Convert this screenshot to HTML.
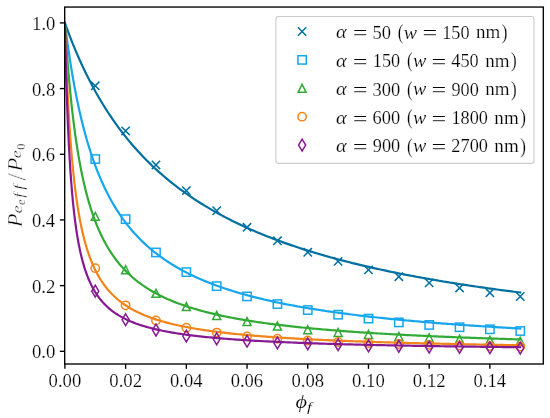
<!DOCTYPE html>
<html><head><meta charset="utf-8"><title>plot</title>
<style>
html,body{margin:0;padding:0;background:#fff;}
svg{display:block}
text{font-family:"Liberation Serif","DejaVu Serif",serif;font-kerning:none;white-space:pre;stroke:#fff;stroke-width:0.2px}
</style></head><body>
<svg width="550" height="418" viewBox="0 0 550 418">
<rect width="550" height="418" fill="#fff"/>
<defs><clipPath id="c"><rect x="64.7" y="7.05" width="478.59999999999997" height="356.95"/></clipPath></defs>

<g clip-path="url(#c)">
<path d="M64.90 22.90L65.41 24.34L65.93 25.77L66.44 27.19L66.96 28.59L67.47 29.99L67.99 31.37L68.50 32.74L69.02 34.10L69.53 35.45L70.05 36.78L70.56 38.11L71.07 39.43L71.59 40.73L72.10 42.03L72.62 43.31L73.13 44.58L73.65 45.85L74.16 47.10L74.68 48.35L75.19 49.58L75.71 50.81L76.22 52.02L76.73 53.23L77.25 54.43L77.76 55.61L78.28 56.79L78.79 57.96L79.31 59.12L79.82 60.28L80.34 61.42L80.85 62.55L81.36 63.68L81.88 64.80L82.39 65.91L82.91 67.01L83.42 68.10L83.94 69.19L84.45 70.27L84.97 71.34L85.48 72.40L86.00 73.45L86.51 74.50L87.02 75.54L87.54 76.57L88.05 77.59L88.57 78.61L89.08 79.62L89.60 80.62L90.11 81.62L90.63 82.61L91.14 83.59L91.66 84.57L92.17 85.53L92.68 86.50L93.20 87.45L93.71 88.40L94.23 89.34L94.74 90.28L95.26 91.21L97.39 95.00L99.53 98.69L101.66 102.27L103.80 105.77L105.94 109.17L108.07 112.48L110.21 115.71L112.34 118.85L114.48 121.92L116.61 124.91L118.75 127.83L120.89 130.68L123.02 133.46L125.16 136.17L127.29 138.82L129.43 141.41L131.56 143.95L133.70 146.42L135.83 148.84L137.97 151.21L140.11 153.53L142.24 155.79L144.38 158.01L146.51 160.18L148.65 162.31L150.78 164.39L152.92 166.43L155.06 168.43L157.19 170.39L159.33 172.31L161.46 174.19L163.60 176.03L165.73 177.85L167.87 179.62L170.01 181.36L172.14 183.07L174.28 184.75L176.41 186.40L178.55 188.02L180.68 189.60L182.82 191.16L184.96 192.70L187.09 194.20L189.23 195.68L191.36 197.14L193.50 198.56L195.63 199.97L197.77 201.35L199.90 202.71L202.04 204.05L204.18 205.36L206.31 206.65L208.45 207.92L210.58 209.17L212.72 210.41L214.85 211.62L216.99 212.81L219.13 213.99L221.26 215.14L223.40 216.28L225.53 217.40L227.67 218.51L229.80 219.60L231.94 220.67L234.08 221.73L236.21 222.77L238.35 223.79L240.48 224.80L242.62 225.80L244.75 226.78L246.89 227.75L249.03 228.71L251.16 229.65L253.30 230.58L255.43 231.50L257.57 232.40L259.70 233.29L261.84 234.17L263.97 235.04L266.11 235.90L268.25 236.74L270.38 237.58L272.52 238.40L274.65 239.21L276.79 240.01L278.92 240.81L281.06 241.59L283.20 242.36L285.33 243.12L287.47 243.88L289.60 244.62L291.74 245.35L293.87 246.08L296.01 246.80L298.15 247.51L300.28 248.21L302.42 248.90L304.55 249.58L306.69 250.26L308.82 250.92L310.96 251.58L313.10 252.24L315.23 252.88L317.37 253.52L319.50 254.15L321.64 254.77L323.77 255.39L325.91 255.99L328.04 256.60L330.18 257.19L332.32 257.78L334.45 258.36L336.59 258.94L338.72 259.51L340.86 260.07L342.99 260.63L345.13 261.18L347.27 261.73L349.40 262.27L351.54 262.81L353.67 263.33L355.81 263.86L357.94 264.38L360.08 264.89L362.22 265.40L364.35 265.90L366.49 266.40L368.62 266.89L370.76 267.38L372.89 267.86L375.03 268.34L377.17 268.81L379.30 269.28L381.44 269.74L383.57 270.20L385.71 270.66L387.84 271.11L389.98 271.56L392.11 272.00L394.25 272.44L396.39 272.87L398.52 273.30L400.66 273.72L402.79 274.15L404.93 274.56L407.06 274.98L409.20 275.39L411.34 275.79L413.47 276.20L415.61 276.60L417.74 276.99L419.88 277.38L422.01 277.77L424.15 278.16L426.29 278.54L428.42 278.92L430.56 279.29L432.69 279.66L434.83 280.03L436.96 280.40L439.10 280.76L441.24 281.12L443.37 281.48L445.51 281.83L447.64 282.18L449.78 282.52L451.91 282.87L454.05 283.21L456.18 283.55L458.32 283.88L460.46 284.22L462.59 284.55L464.73 284.87L466.86 285.20L469.00 285.52L471.13 285.84L473.27 286.16L475.41 286.47L477.54 286.78L479.68 287.09L481.81 287.40L483.95 287.70L486.08 288.01L488.22 288.31L490.36 288.60L492.49 288.90L494.63 289.19L496.76 289.48L498.90 289.77L501.03 290.05L503.17 290.34L505.31 290.62L507.44 290.90L509.58 291.18L511.71 291.45L513.85 291.73L515.98 292.00L518.12 292.27L520.25 292.53" fill="none" stroke="#0070a0" stroke-width="2.2" stroke-linecap="square" stroke-linejoin="round"/>
<path d="M91.09 81.62L99.42 89.95M91.09 89.95L99.42 81.62" stroke="#0070a0" stroke-width="1.5" fill="none"/>
<path d="M121.45 126.78L129.78 135.11M121.45 135.11L129.78 126.78" stroke="#0070a0" stroke-width="1.5" fill="none"/>
<path d="M151.81 160.80L160.14 169.13M151.81 169.13L160.14 160.80" stroke="#0070a0" stroke-width="1.5" fill="none"/>
<path d="M182.16 186.45L190.49 194.78M182.16 194.78L190.49 186.45" stroke="#0070a0" stroke-width="1.5" fill="none"/>
<path d="M212.52 206.58L220.85 214.91M212.52 214.91L220.85 206.58" stroke="#0070a0" stroke-width="1.5" fill="none"/>
<path d="M242.88 223.10L251.21 231.43M242.88 231.43L251.21 223.10" stroke="#0070a0" stroke-width="1.5" fill="none"/>
<path d="M273.23 236.63L281.56 244.96M273.23 244.96L281.56 236.63" stroke="#0070a0" stroke-width="1.5" fill="none"/>
<path d="M303.59 248.12L311.92 256.45M303.59 256.45L311.92 248.12" stroke="#0070a0" stroke-width="1.5" fill="none"/>
<path d="M333.95 257.22L342.28 265.55M333.95 265.55L342.28 257.22" stroke="#0070a0" stroke-width="1.5" fill="none"/>
<path d="M364.31 265.72L372.64 274.05M364.31 274.05L372.64 265.72" stroke="#0070a0" stroke-width="1.5" fill="none"/>
<path d="M394.66 272.52L402.99 280.85M394.66 280.85L402.99 272.52" stroke="#0070a0" stroke-width="1.5" fill="none"/>
<path d="M425.02 278.76L433.35 287.09M425.02 287.09L433.35 278.76" stroke="#0070a0" stroke-width="1.5" fill="none"/>
<path d="M455.38 283.79L463.71 292.12M455.38 292.12L463.71 283.79" stroke="#0070a0" stroke-width="1.5" fill="none"/>
<path d="M485.73 288.61L494.06 296.94M485.73 296.94L494.06 288.61" stroke="#0070a0" stroke-width="1.5" fill="none"/>
<path d="M516.09 292.33L524.42 300.66M516.09 300.66L524.42 292.33" stroke="#0070a0" stroke-width="1.5" fill="none"/>
<path d="M64.90 22.90L65.41 27.08L65.93 31.15L66.44 35.12L66.96 39.00L67.47 42.79L67.99 46.48L68.50 50.09L69.02 53.62L69.53 57.06L70.05 60.43L70.56 63.72L71.07 66.94L71.59 70.09L72.10 73.18L72.62 76.19L73.13 79.14L73.65 82.03L74.16 84.87L74.68 87.64L75.19 90.36L75.71 93.02L76.22 95.63L76.73 98.18L77.25 100.69L77.76 103.15L78.28 105.56L78.79 107.93L79.31 110.25L79.82 112.53L80.34 114.77L80.85 116.97L81.36 119.13L81.88 121.24L82.39 123.32L82.91 125.37L83.42 127.38L83.94 129.35L84.45 131.29L84.97 133.20L85.48 135.07L86.00 136.92L86.51 138.73L87.02 140.51L87.54 142.27L88.05 143.99L88.57 145.69L89.08 147.36L89.60 149.01L90.11 150.62L90.63 152.22L91.14 153.79L91.66 155.33L92.17 156.85L92.68 158.35L93.20 159.83L93.71 161.28L94.23 162.72L94.74 164.13L95.26 165.52L97.39 171.09L99.53 176.33L101.66 181.29L103.80 185.98L105.94 190.43L108.07 194.65L110.21 198.66L112.34 202.47L114.48 206.11L116.61 209.57L118.75 212.88L120.89 216.04L123.02 219.07L125.16 221.96L127.29 224.74L129.43 227.40L131.56 229.96L133.70 232.42L135.83 234.78L137.97 237.05L140.11 239.24L142.24 241.35L144.38 243.39L146.51 245.35L148.65 247.25L150.78 249.08L152.92 250.85L155.06 252.57L157.19 254.23L159.33 255.83L161.46 257.39L163.60 258.90L165.73 260.36L167.87 261.78L170.01 263.16L172.14 264.49L174.28 265.79L176.41 267.06L178.55 268.28L180.68 269.48L182.82 270.64L184.96 271.77L187.09 272.87L189.23 273.95L191.36 274.99L193.50 276.01L195.63 277.01L197.77 277.97L199.90 278.92L202.04 279.84L204.18 280.74L206.31 281.62L208.45 282.48L210.58 283.32L212.72 284.14L214.85 284.95L216.99 285.73L219.13 286.50L221.26 287.25L223.40 287.98L225.53 288.70L227.67 289.41L229.80 290.10L231.94 290.77L234.08 291.43L236.21 292.08L238.35 292.71L240.48 293.34L242.62 293.95L244.75 294.55L246.89 295.13L249.03 295.71L251.16 296.27L253.30 296.83L255.43 297.37L257.57 297.91L259.70 298.43L261.84 298.94L263.97 299.45L266.11 299.95L268.25 300.44L270.38 300.92L272.52 301.39L274.65 301.85L276.79 302.31L278.92 302.75L281.06 303.19L283.20 303.63L285.33 304.05L287.47 304.47L289.60 304.88L291.74 305.29L293.87 305.69L296.01 306.08L298.15 306.47L300.28 306.85L302.42 307.23L304.55 307.60L306.69 307.96L308.82 308.32L310.96 308.67L313.10 309.02L315.23 309.36L317.37 309.70L319.50 310.03L321.64 310.36L323.77 310.68L325.91 311.00L328.04 311.32L330.18 311.63L332.32 311.93L334.45 312.23L336.59 312.53L338.72 312.82L340.86 313.11L342.99 313.40L345.13 313.68L347.27 313.96L349.40 314.23L351.54 314.50L353.67 314.77L355.81 315.03L357.94 315.29L360.08 315.55L362.22 315.80L364.35 316.05L366.49 316.30L368.62 316.55L370.76 316.79L372.89 317.03L375.03 317.26L377.17 317.49L379.30 317.72L381.44 317.95L383.57 318.17L385.71 318.40L387.84 318.62L389.98 318.83L392.11 319.05L394.25 319.26L396.39 319.47L398.52 319.67L400.66 319.88L402.79 320.08L404.93 320.28L407.06 320.48L409.20 320.67L411.34 320.87L413.47 321.06L415.61 321.25L417.74 321.43L419.88 321.62L422.01 321.80L424.15 321.98L426.29 322.16L428.42 322.34L430.56 322.51L432.69 322.69L434.83 322.86L436.96 323.03L439.10 323.20L441.24 323.36L443.37 323.53L445.51 323.69L447.64 323.85L449.78 324.01L451.91 324.17L454.05 324.33L456.18 324.48L458.32 324.64L460.46 324.79L462.59 324.94L464.73 325.09L466.86 325.23L469.00 325.38L471.13 325.53L473.27 325.67L475.41 325.81L477.54 325.95L479.68 326.09L481.81 326.23L483.95 326.37L486.08 326.50L488.22 326.64L490.36 326.77L492.49 326.90L494.63 327.03L496.76 327.16L498.90 327.29L501.03 327.42L503.17 327.54L505.31 327.67L507.44 327.79L509.58 327.92L511.71 328.04L513.85 328.16L515.98 328.28L518.12 328.40L520.25 328.51" fill="none" stroke="#16a6ee" stroke-width="2.2" stroke-linecap="square" stroke-linejoin="round"/>
<rect x="91.09" y="154.89" width="8.33" height="8.33" stroke="#16a6ee" stroke-width="1.5" fill="none"/>
<rect x="121.45" y="214.99" width="8.33" height="8.33" stroke="#16a6ee" stroke-width="1.5" fill="none"/>
<rect x="151.81" y="248.29" width="8.33" height="8.33" stroke="#16a6ee" stroke-width="1.5" fill="none"/>
<rect x="182.16" y="267.96" width="8.33" height="8.33" stroke="#16a6ee" stroke-width="1.5" fill="none"/>
<rect x="212.52" y="281.98" width="8.33" height="8.33" stroke="#16a6ee" stroke-width="1.5" fill="none"/>
<rect x="242.88" y="292.26" width="8.33" height="8.33" stroke="#16a6ee" stroke-width="1.5" fill="none"/>
<rect x="273.23" y="299.88" width="8.33" height="8.33" stroke="#16a6ee" stroke-width="1.5" fill="none"/>
<rect x="303.59" y="305.89" width="8.33" height="8.33" stroke="#16a6ee" stroke-width="1.5" fill="none"/>
<rect x="333.95" y="310.52" width="8.33" height="8.33" stroke="#16a6ee" stroke-width="1.5" fill="none"/>
<rect x="364.31" y="314.46" width="8.33" height="8.33" stroke="#16a6ee" stroke-width="1.5" fill="none"/>
<rect x="394.66" y="318.24" width="8.33" height="8.33" stroke="#16a6ee" stroke-width="1.5" fill="none"/>
<rect x="425.02" y="320.76" width="8.33" height="8.33" stroke="#16a6ee" stroke-width="1.5" fill="none"/>
<rect x="455.38" y="323.06" width="8.33" height="8.33" stroke="#16a6ee" stroke-width="1.5" fill="none"/>
<rect x="485.73" y="325.10" width="8.33" height="8.33" stroke="#16a6ee" stroke-width="1.5" fill="none"/>
<rect x="516.09" y="326.84" width="8.33" height="8.33" stroke="#16a6ee" stroke-width="1.5" fill="none"/>
<path d="M64.90 22.90L65.41 31.10L65.93 38.90L66.44 46.33L66.96 53.42L67.47 60.18L67.99 66.65L68.50 72.85L69.02 78.77L69.53 84.46L70.05 89.91L70.56 95.15L71.07 100.18L71.59 105.02L72.10 109.68L72.62 114.17L73.13 118.49L73.65 122.66L74.16 126.69L74.68 130.58L75.19 134.33L75.71 137.97L76.22 141.48L76.73 144.88L77.25 148.18L77.76 151.37L78.28 154.46L78.79 157.46L79.31 160.37L79.82 163.20L80.34 165.94L80.85 168.61L81.36 171.20L81.88 173.72L82.39 176.17L82.91 178.56L83.42 180.88L83.94 183.14L84.45 185.34L84.97 187.49L85.48 189.58L86.00 191.62L86.51 193.61L87.02 195.56L87.54 197.45L88.05 199.30L88.57 201.11L89.08 202.87L89.60 204.60L90.11 206.28L90.63 207.93L91.14 209.54L91.66 211.12L92.17 212.66L92.68 214.17L93.20 215.65L93.71 217.09L94.23 218.51L94.74 219.90L95.26 221.25L97.39 226.61L99.53 231.55L101.66 236.12L103.80 240.36L105.94 244.30L108.07 247.98L110.21 251.41L112.34 254.64L114.48 257.66L116.61 260.50L118.75 263.18L120.89 265.71L123.02 268.11L125.16 270.37L127.29 272.52L129.43 274.56L131.56 276.50L133.70 278.35L135.83 280.11L137.97 281.79L140.11 283.39L142.24 284.93L144.38 286.39L146.51 287.80L148.65 289.15L150.78 290.44L152.92 291.69L155.06 292.88L157.19 294.03L159.33 295.14L161.46 296.21L163.60 297.24L165.73 298.23L167.87 299.19L170.01 300.11L172.14 301.01L174.28 301.87L176.41 302.71L178.55 303.52L180.68 304.30L182.82 305.06L184.96 305.80L187.09 306.52L189.23 307.21L191.36 307.88L193.50 308.54L195.63 309.17L197.77 309.79L199.90 310.39L202.04 310.98L204.18 311.55L206.31 312.10L208.45 312.64L210.58 313.17L212.72 313.68L214.85 314.18L216.99 314.67L219.13 315.14L221.26 315.60L223.40 316.06L225.53 316.50L227.67 316.93L229.80 317.35L231.94 317.76L234.08 318.17L236.21 318.56L238.35 318.95L240.48 319.32L242.62 319.69L244.75 320.05L246.89 320.41L249.03 320.75L251.16 321.09L253.30 321.42L255.43 321.75L257.57 322.06L259.70 322.38L261.84 322.68L263.97 322.98L266.11 323.28L268.25 323.57L270.38 323.85L272.52 324.13L274.65 324.40L276.79 324.67L278.92 324.93L281.06 325.19L283.20 325.44L285.33 325.69L287.47 325.93L289.60 326.17L291.74 326.41L293.87 326.64L296.01 326.87L298.15 327.10L300.28 327.32L302.42 327.53L304.55 327.75L306.69 327.96L308.82 328.16L310.96 328.37L313.10 328.57L315.23 328.76L317.37 328.96L319.50 329.15L321.64 329.33L323.77 329.52L325.91 329.70L328.04 329.88L330.18 330.06L332.32 330.23L334.45 330.40L336.59 330.57L338.72 330.74L340.86 330.90L342.99 331.06L345.13 331.22L347.27 331.38L349.40 331.53L351.54 331.69L353.67 331.84L355.81 331.99L357.94 332.13L360.08 332.28L362.22 332.42L364.35 332.56L366.49 332.70L368.62 332.84L370.76 332.97L372.89 333.11L375.03 333.24L377.17 333.37L379.30 333.50L381.44 333.62L383.57 333.75L385.71 333.87L387.84 333.99L389.98 334.11L392.11 334.23L394.25 334.35L396.39 334.47L398.52 334.58L400.66 334.70L402.79 334.81L404.93 334.92L407.06 335.03L409.20 335.14L411.34 335.24L413.47 335.35L415.61 335.45L417.74 335.56L419.88 335.66L422.01 335.76L424.15 335.86L426.29 335.96L428.42 336.06L430.56 336.15L432.69 336.25L434.83 336.34L436.96 336.43L439.10 336.53L441.24 336.62L443.37 336.71L445.51 336.80L447.64 336.89L449.78 336.97L451.91 337.06L454.05 337.15L456.18 337.23L458.32 337.32L460.46 337.40L462.59 337.48L464.73 337.56L466.86 337.64L469.00 337.72L471.13 337.80L473.27 337.88L475.41 337.96L477.54 338.03L479.68 338.11L481.81 338.18L483.95 338.26L486.08 338.33L488.22 338.41L490.36 338.48L492.49 338.55L494.63 338.62L496.76 338.69L498.90 338.76L501.03 338.83L503.17 338.90L505.31 338.97L507.44 339.03L509.58 339.10L511.71 339.16L513.85 339.23L515.98 339.29L518.12 339.36L520.25 339.42" fill="none" stroke="#32aa36" stroke-width="2.2" stroke-linecap="square" stroke-linejoin="round"/>
<path d="M95.26 212.33L99.26 220.33L91.26 220.33Z" stroke="#32aa36" stroke-width="1.5" fill="none" stroke-linejoin="miter"/>
<path d="M125.61 265.73L129.61 273.72L121.62 273.72Z" stroke="#32aa36" stroke-width="1.5" fill="none" stroke-linejoin="miter"/>
<path d="M155.97 289.34L159.97 297.34L151.97 297.34Z" stroke="#32aa36" stroke-width="1.5" fill="none" stroke-linejoin="miter"/>
<path d="M186.33 302.57L190.33 310.57L182.33 310.57Z" stroke="#32aa36" stroke-width="1.5" fill="none" stroke-linejoin="miter"/>
<path d="M216.69 311.41L220.68 319.40L212.69 319.40Z" stroke="#32aa36" stroke-width="1.5" fill="none" stroke-linejoin="miter"/>
<path d="M247.04 317.52L251.04 325.51L243.04 325.51Z" stroke="#32aa36" stroke-width="1.5" fill="none" stroke-linejoin="miter"/>
<path d="M277.40 322.05L281.40 330.04L273.40 330.04Z" stroke="#32aa36" stroke-width="1.5" fill="none" stroke-linejoin="miter"/>
<path d="M307.76 325.73L311.75 333.72L303.76 333.72Z" stroke="#32aa36" stroke-width="1.5" fill="none" stroke-linejoin="miter"/>
<path d="M338.11 328.52L342.11 336.51L334.11 336.51Z" stroke="#32aa36" stroke-width="1.5" fill="none" stroke-linejoin="miter"/>
<path d="M368.47 330.39L372.47 338.39L364.47 338.39Z" stroke="#32aa36" stroke-width="1.5" fill="none" stroke-linejoin="miter"/>
<path d="M398.83 332.41L402.83 340.40L394.83 340.40Z" stroke="#32aa36" stroke-width="1.5" fill="none" stroke-linejoin="miter"/>
<path d="M429.18 333.90L433.18 341.89L425.19 341.89Z" stroke="#32aa36" stroke-width="1.5" fill="none" stroke-linejoin="miter"/>
<path d="M459.54 335.17L463.54 343.17L455.54 343.17Z" stroke="#32aa36" stroke-width="1.5" fill="none" stroke-linejoin="miter"/>
<path d="M489.90 336.27L493.90 344.27L485.90 344.27Z" stroke="#32aa36" stroke-width="1.5" fill="none" stroke-linejoin="miter"/>
<path d="M520.25 337.23L524.25 345.23L516.26 345.23Z" stroke="#32aa36" stroke-width="1.5" fill="none" stroke-linejoin="miter"/>
<path d="M64.90 22.90L65.41 38.84L65.93 53.31L66.44 66.51L66.96 78.59L67.47 89.69L67.99 99.92L68.50 109.39L69.02 118.18L69.53 126.35L70.05 133.97L70.56 141.09L71.07 147.76L71.59 154.03L72.10 159.92L72.62 165.47L73.13 170.71L73.65 175.67L74.16 180.36L74.68 184.81L75.19 189.03L75.71 193.05L76.22 196.87L76.73 200.52L77.25 204.00L77.76 207.32L78.28 210.50L78.79 213.54L79.31 216.45L79.82 219.24L80.34 221.92L80.85 224.50L81.36 226.97L81.88 229.36L82.39 231.65L82.91 233.86L83.42 235.99L83.94 238.04L84.45 240.02L84.97 241.94L85.48 243.79L86.00 245.58L86.51 247.31L87.02 248.99L87.54 250.61L88.05 252.19L88.57 253.71L89.08 255.19L89.60 256.63L90.11 258.02L90.63 259.38L91.14 260.70L91.66 261.98L92.17 263.22L92.68 264.43L93.20 265.61L93.71 266.76L94.23 267.87L94.74 268.96L95.26 270.02L97.39 274.15L99.53 277.88L101.66 281.28L103.80 284.38L105.94 287.22L108.07 289.83L110.21 292.24L112.34 294.47L114.48 296.54L116.61 298.47L118.75 300.27L120.89 301.96L123.02 303.54L125.16 305.02L127.29 306.41L129.43 307.73L131.56 308.97L133.70 310.15L135.83 311.26L137.97 312.32L140.11 313.32L142.24 314.27L144.38 315.18L146.51 316.05L148.65 316.87L150.78 317.67L152.92 318.42L155.06 319.14L157.19 319.84L159.33 320.50L161.46 321.14L163.60 321.75L165.73 322.34L167.87 322.91L170.01 323.46L172.14 323.99L174.28 324.49L176.41 324.98L178.55 325.46L180.68 325.91L182.82 326.35L184.96 326.78L187.09 327.20L189.23 327.60L191.36 327.98L193.50 328.36L195.63 328.72L197.77 329.08L199.90 329.42L202.04 329.75L204.18 330.08L206.31 330.39L208.45 330.70L210.58 330.99L212.72 331.28L214.85 331.57L216.99 331.84L219.13 332.11L221.26 332.37L223.40 332.62L225.53 332.87L227.67 333.11L229.80 333.34L231.94 333.57L234.08 333.80L236.21 334.02L238.35 334.23L240.48 334.44L242.62 334.64L244.75 334.84L246.89 335.04L249.03 335.23L251.16 335.42L253.30 335.60L255.43 335.78L257.57 335.95L259.70 336.12L261.84 336.29L263.97 336.46L266.11 336.62L268.25 336.78L270.38 336.93L272.52 337.08L274.65 337.23L276.79 337.38L278.92 337.52L281.06 337.66L283.20 337.80L285.33 337.93L287.47 338.07L289.60 338.20L291.74 338.32L293.87 338.45L296.01 338.57L298.15 338.69L300.28 338.81L302.42 338.93L304.55 339.05L306.69 339.16L308.82 339.27L310.96 339.38L313.10 339.49L315.23 339.59L317.37 339.70L319.50 339.80L321.64 339.90L323.77 340.00L325.91 340.10L328.04 340.19L330.18 340.29L332.32 340.38L334.45 340.47L336.59 340.56L338.72 340.65L340.86 340.74L342.99 340.83L345.13 340.91L347.27 341.00L349.40 341.08L351.54 341.16L353.67 341.24L355.81 341.32L357.94 341.40L360.08 341.47L362.22 341.55L364.35 341.62L366.49 341.70L368.62 341.77L370.76 341.84L372.89 341.91L375.03 341.98L377.17 342.05L379.30 342.12L381.44 342.19L383.57 342.25L385.71 342.32L387.84 342.38L389.98 342.45L392.11 342.51L394.25 342.57L396.39 342.63L398.52 342.70L400.66 342.75L402.79 342.81L404.93 342.87L407.06 342.93L409.20 342.99L411.34 343.04L413.47 343.10L415.61 343.15L417.74 343.21L419.88 343.26L422.01 343.32L424.15 343.37L426.29 343.42L428.42 343.47L430.56 343.52L432.69 343.57L434.83 343.62L436.96 343.67L439.10 343.72L441.24 343.77L443.37 343.81L445.51 343.86L447.64 343.91L449.78 343.95L451.91 344.00L454.05 344.04L456.18 344.09L458.32 344.13L460.46 344.18L462.59 344.22L464.73 344.26L466.86 344.30L469.00 344.35L471.13 344.39L473.27 344.43L475.41 344.47L477.54 344.51L479.68 344.55L481.81 344.59L483.95 344.63L486.08 344.66L488.22 344.70L490.36 344.74L492.49 344.78L494.63 344.81L496.76 344.85L498.90 344.89L501.03 344.92L503.17 344.96L505.31 344.99L507.44 345.03L509.58 345.06L511.71 345.10L513.85 345.13L515.98 345.17L518.12 345.20L520.25 345.23" fill="none" stroke="#f3841a" stroke-width="2.2" stroke-linecap="square" stroke-linejoin="round"/>
<circle cx="95.26" cy="268.18" r="4.17" stroke="#f3841a" stroke-width="1.5" fill="none"/>
<circle cx="125.61" cy="305.32" r="4.17" stroke="#f3841a" stroke-width="1.5" fill="none"/>
<circle cx="155.97" cy="320.43" r="4.17" stroke="#f3841a" stroke-width="1.5" fill="none"/>
<circle cx="186.33" cy="327.79" r="4.17" stroke="#f3841a" stroke-width="1.5" fill="none"/>
<circle cx="216.69" cy="332.58" r="4.17" stroke="#f3841a" stroke-width="1.5" fill="none"/>
<circle cx="247.04" cy="336.37" r="4.17" stroke="#f3841a" stroke-width="1.5" fill="none"/>
<circle cx="277.40" cy="338.73" r="4.17" stroke="#f3841a" stroke-width="1.5" fill="none"/>
<circle cx="307.76" cy="340.53" r="4.17" stroke="#f3841a" stroke-width="1.5" fill="none"/>
<circle cx="338.11" cy="341.94" r="4.17" stroke="#f3841a" stroke-width="1.5" fill="none"/>
<circle cx="368.47" cy="343.08" r="4.17" stroke="#f3841a" stroke-width="1.5" fill="none"/>
<circle cx="398.83" cy="344.02" r="4.17" stroke="#f3841a" stroke-width="1.5" fill="none"/>
<circle cx="429.18" cy="344.80" r="4.17" stroke="#f3841a" stroke-width="1.5" fill="none"/>
<circle cx="459.54" cy="345.47" r="4.17" stroke="#f3841a" stroke-width="1.5" fill="none"/>
<circle cx="489.90" cy="346.05" r="4.17" stroke="#f3841a" stroke-width="1.5" fill="none"/>
<circle cx="520.25" cy="346.55" r="4.17" stroke="#f3841a" stroke-width="1.5" fill="none"/>
<path d="M64.90 22.90L65.41 46.22L65.93 66.46L66.44 84.19L66.96 99.84L67.47 113.76L67.99 126.23L68.50 137.46L69.02 147.62L69.53 156.87L70.05 165.31L70.56 173.06L71.07 180.18L71.59 186.76L72.10 192.86L72.62 198.52L73.13 203.80L73.65 208.72L74.16 213.33L74.68 217.64L75.19 221.70L75.71 225.52L76.22 229.13L76.73 232.53L77.25 235.75L77.76 238.80L78.28 241.70L78.79 244.45L79.31 247.06L79.82 249.56L80.34 251.93L80.85 254.20L81.36 256.37L81.88 258.45L82.39 260.43L82.91 262.34L83.42 264.16L83.94 265.92L84.45 267.60L84.97 269.22L85.48 270.78L86.00 272.28L86.51 273.73L87.02 275.12L87.54 276.47L88.05 277.77L88.57 279.03L89.08 280.24L89.60 281.42L90.11 282.55L90.63 283.65L91.14 284.72L91.66 285.75L92.17 286.76L92.68 287.73L93.20 288.67L93.71 289.59L94.23 290.48L94.74 291.35L95.26 292.19L97.39 295.45L99.53 298.37L101.66 301.00L103.80 303.39L105.94 305.56L108.07 307.55L110.21 309.37L112.34 311.06L114.48 312.61L116.61 314.05L118.75 315.39L120.89 316.64L123.02 317.80L125.16 318.89L127.29 319.92L129.43 320.88L131.56 321.78L133.70 322.64L135.83 323.45L137.97 324.21L140.11 324.94L142.24 325.63L144.38 326.28L146.51 326.90L148.65 327.49L150.78 328.06L152.92 328.60L155.06 329.12L157.19 329.61L159.33 330.08L161.46 330.54L163.60 330.97L165.73 331.39L167.87 331.79L170.01 332.18L172.14 332.55L174.28 332.91L176.41 333.25L178.55 333.59L180.68 333.91L182.82 334.22L184.96 334.52L187.09 334.81L189.23 335.09L191.36 335.36L193.50 335.62L195.63 335.88L197.77 336.13L199.90 336.37L202.04 336.60L204.18 336.82L206.31 337.04L208.45 337.26L210.58 337.46L212.72 337.66L214.85 337.86L216.99 338.05L219.13 338.24L221.26 338.42L223.40 338.59L225.53 338.76L227.67 338.93L229.80 339.09L231.94 339.25L234.08 339.41L236.21 339.56L238.35 339.71L240.48 339.85L242.62 339.99L244.75 340.13L246.89 340.27L249.03 340.40L251.16 340.53L253.30 340.65L255.43 340.78L257.57 340.90L259.70 341.01L261.84 341.13L263.97 341.24L266.11 341.35L268.25 341.46L270.38 341.57L272.52 341.67L274.65 341.77L276.79 341.87L278.92 341.97L281.06 342.07L283.20 342.16L285.33 342.26L287.47 342.35L289.60 342.44L291.74 342.52L293.87 342.61L296.01 342.70L298.15 342.78L300.28 342.86L302.42 342.94L304.55 343.02L306.69 343.10L308.82 343.17L310.96 343.25L313.10 343.32L315.23 343.39L317.37 343.46L319.50 343.53L321.64 343.60L323.77 343.67L325.91 343.74L328.04 343.80L330.18 343.87L332.32 343.93L334.45 343.99L336.59 344.06L338.72 344.12L340.86 344.18L342.99 344.23L345.13 344.29L347.27 344.35L349.40 344.41L351.54 344.46L353.67 344.52L355.81 344.57L357.94 344.62L360.08 344.68L362.22 344.73L364.35 344.78L366.49 344.83L368.62 344.88L370.76 344.93L372.89 344.98L375.03 345.02L377.17 345.07L379.30 345.12L381.44 345.16L383.57 345.21L385.71 345.25L387.84 345.30L389.98 345.34L392.11 345.38L394.25 345.42L396.39 345.47L398.52 345.51L400.66 345.55L402.79 345.59L404.93 345.63L407.06 345.67L409.20 345.70L411.34 345.74L413.47 345.78L415.61 345.82L417.74 345.86L419.88 345.89L422.01 345.93L424.15 345.96L426.29 346.00L428.42 346.03L430.56 346.07L432.69 346.10L434.83 346.14L436.96 346.17L439.10 346.20L441.24 346.23L443.37 346.27L445.51 346.30L447.64 346.33L449.78 346.36L451.91 346.39L454.05 346.42L456.18 346.45L458.32 346.48L460.46 346.51L462.59 346.54L464.73 346.57L466.86 346.60L469.00 346.63L471.13 346.65L473.27 346.68L475.41 346.71L477.54 346.74L479.68 346.76L481.81 346.79L483.95 346.82L486.08 346.84L488.22 346.87L490.36 346.89L492.49 346.92L494.63 346.94L496.76 346.97L498.90 346.99L501.03 347.02L503.17 347.04L505.31 347.06L507.44 347.09L509.58 347.11L511.71 347.13L513.85 347.16L515.98 347.18L518.12 347.20L520.25 347.22" fill="none" stroke="#861a92" stroke-width="2.2" stroke-linecap="square" stroke-linejoin="round"/>
<path d="M95.26 285.25L98.79 291.14L95.26 297.03L91.72 291.14Z" stroke="#861a92" stroke-width="1.5" fill="none" stroke-linejoin="miter"/>
<path d="M125.61 313.82L129.15 319.71L125.61 325.60L122.08 319.71Z" stroke="#861a92" stroke-width="1.5" fill="none" stroke-linejoin="miter"/>
<path d="M155.97 324.23L159.51 330.12L155.97 336.01L152.44 330.12Z" stroke="#861a92" stroke-width="1.5" fill="none" stroke-linejoin="miter"/>
<path d="M186.33 330.20L189.86 336.10L186.33 341.99L182.79 336.10Z" stroke="#861a92" stroke-width="1.5" fill="none" stroke-linejoin="miter"/>
<path d="M216.69 332.90L220.22 338.79L216.69 344.68L213.15 338.79Z" stroke="#861a92" stroke-width="1.5" fill="none" stroke-linejoin="miter"/>
<path d="M247.04 335.36L250.58 341.25L247.04 347.14L243.51 341.25Z" stroke="#861a92" stroke-width="1.5" fill="none" stroke-linejoin="miter"/>
<path d="M277.40 337.04L280.93 342.93L277.40 348.82L273.86 342.93Z" stroke="#861a92" stroke-width="1.5" fill="none" stroke-linejoin="miter"/>
<path d="M307.76 337.96L311.29 343.85L307.76 349.74L304.22 343.85Z" stroke="#861a92" stroke-width="1.5" fill="none" stroke-linejoin="miter"/>
<path d="M338.11 338.84L341.65 344.73L338.11 350.62L334.58 344.73Z" stroke="#861a92" stroke-width="1.5" fill="none" stroke-linejoin="miter"/>
<path d="M368.47 339.99L372.00 345.88L368.47 351.77L364.94 345.88Z" stroke="#861a92" stroke-width="1.5" fill="none" stroke-linejoin="miter"/>
<path d="M398.83 340.42L402.36 346.31L398.83 352.20L395.29 346.31Z" stroke="#861a92" stroke-width="1.5" fill="none" stroke-linejoin="miter"/>
<path d="M429.18 341.14L432.72 347.03L429.18 352.92L425.65 347.03Z" stroke="#861a92" stroke-width="1.5" fill="none" stroke-linejoin="miter"/>
<path d="M459.54 341.43L463.08 347.32L459.54 353.21L456.01 347.32Z" stroke="#861a92" stroke-width="1.5" fill="none" stroke-linejoin="miter"/>
<path d="M489.90 341.82L493.43 347.71L489.90 353.60L486.36 347.71Z" stroke="#861a92" stroke-width="1.5" fill="none" stroke-linejoin="miter"/>
<path d="M520.25 342.16L523.79 348.05L520.25 353.94L516.72 348.05Z" stroke="#861a92" stroke-width="1.5" fill="none" stroke-linejoin="miter"/>
</g>
<path d="M64.90 364.0V368.86" stroke="#000" stroke-width="1.35"/>
<text transform="matrix(0.9337 0 0 0.9500 48.55 386.60)" font-size="20" fill="#000">0.00</text>
<path d="M125.61 364.0V368.86" stroke="#000" stroke-width="1.35"/>
<text transform="matrix(0.9372 0 0 0.9500 109.26 386.60)" font-size="20" fill="#000">0.02</text>
<path d="M186.33 364.0V368.86" stroke="#000" stroke-width="1.35"/>
<text transform="matrix(0.9273 0 0 0.9500 169.98 386.60)" font-size="20" fill="#000">0.04</text>
<path d="M247.04 364.0V368.86" stroke="#000" stroke-width="1.35"/>
<text transform="matrix(0.9275 0 0 0.9500 230.70 386.60)" font-size="20" fill="#000">0.06</text>
<path d="M307.76 364.0V368.86" stroke="#000" stroke-width="1.35"/>
<text transform="matrix(0.9321 0 0 0.9500 291.41 386.60)" font-size="20" fill="#000">0.08</text>
<path d="M368.47 364.0V368.86" stroke="#000" stroke-width="1.35"/>
<text transform="matrix(0.9337 0 0 0.9500 352.12 386.60)" font-size="20" fill="#000">0.10</text>
<path d="M429.18 364.0V368.86" stroke="#000" stroke-width="1.35"/>
<text transform="matrix(0.9372 0 0 0.9500 412.83 386.60)" font-size="20" fill="#000">0.12</text>
<path d="M489.90 364.0V368.86" stroke="#000" stroke-width="1.35"/>
<text transform="matrix(0.9273 0 0 0.9500 473.55 386.60)" font-size="20" fill="#000">0.14</text>
<path d="M64.7 351.30H59.84" stroke="#000" stroke-width="1.35"/>
<text transform="matrix(0.9396 0 0 0.9500 31.89 358.30)" font-size="20" fill="#000">0.0</text>
<path d="M64.7 285.62H59.84" stroke="#000" stroke-width="1.35"/>
<text transform="matrix(0.9447 0 0 0.9500 31.89 292.62)" font-size="20" fill="#000">0.2</text>
<path d="M64.7 219.94H59.84" stroke="#000" stroke-width="1.35"/>
<text transform="matrix(0.9304 0 0 0.9500 31.90 226.94)" font-size="20" fill="#000">0.4</text>
<path d="M64.7 154.26H59.84" stroke="#000" stroke-width="1.35"/>
<text transform="matrix(0.9306 0 0 0.9500 31.90 161.26)" font-size="20" fill="#000">0.6</text>
<path d="M64.7 88.58H59.84" stroke="#000" stroke-width="1.35"/>
<text transform="matrix(0.9372 0 0 0.9500 31.89 95.58)" font-size="20" fill="#000">0.8</text>
<path d="M64.7 22.90H59.84" stroke="#000" stroke-width="1.35"/>
<text transform="matrix(0.9313 0 0 0.9500 32.09 29.90)" font-size="20" fill="#000">1.0</text>
<rect x="64.7" y="7.05" width="478.59999999999997" height="356.95" fill="none" stroke="#000" stroke-width="1.35"/>
<text transform="matrix(1.1142 0 0 0.9154 295.39 407.90)" font-size="20" font-style="italic" fill="#000">ϕ</text>
<text transform="matrix(0.8512 0 0 0.6598 307.11 411.09)" font-size="20" font-style="italic" fill="#000">f</text>
<text transform="matrix(0 -1.1340 1.0080 0 21.60 227.18)" font-size="20" font-style="italic" style="stroke-width:0.5px">P</text>
<text transform="matrix(0 -0.9216 0.7693 0 21.65 213.47)" font-size="20" font-style="italic" style="stroke-width:0.5px">e</text>
<text transform="matrix(0 -0.6144 0.6134 0 24.88 204.88)" font-size="20" font-style="italic" style="stroke-width:0.5px">e</text>
<text transform="matrix(0 -0.8512 0.6816 0 24.20 197.79)" font-size="20" font-style="italic" style="stroke-width:0.5px">f</text>
<text transform="matrix(0 -0.8773 0.6816 0 24.20 189.80)" font-size="20" font-style="italic" style="stroke-width:0.5px">f</text>
<text transform="matrix(0 -1.3317 1.3828 0 25.53 180.80)" font-size="20" style="stroke-width:0.5px">/</text>
<text transform="matrix(0 -1.1340 1.0156 0 21.50 171.48)" font-size="20" font-style="italic" style="stroke-width:0.5px">P</text>
<text transform="matrix(0 -0.8832 0.7589 0 21.35 158.34)" font-size="20" font-style="italic" style="stroke-width:0.5px">e</text>
<text transform="matrix(0 -0.6135 0.6743 0 24.87 149.67)" font-size="20" style="stroke-width:0.5px">0</text>
<rect x="275.9" y="16.5" width="258.1" height="146.9" rx="2.8" fill="#fff" fill-opacity="0.8" stroke="#ccc" stroke-width="1.11"/>
<path d="M297.94 27.34L306.27 35.66M297.94 35.66L306.27 27.34" stroke="#0070a0" stroke-width="1.5" fill="none"/>
<text transform="matrix(1.0162 0 0 0.9500 336.09 38.35)" font-size="20" font-style="italic" fill="#000">α</text>
<text transform="matrix(1.3109 0 0 1.0600 352.79 40.49)" font-size="20" fill="#000">=</text>
<text transform="matrix(0.9263 0 0 0.9500 372.44 38.70)" font-size="20" fill="#000">50</text>
<text transform="matrix(0.8371 0 0 1.0532 397.86 38.92)" font-size="20" fill="#000">(</text>
<text transform="matrix(0.9988 0 0 0.9500 403.72 38.60)" font-size="20" font-style="italic" fill="#000">w</text>
<text transform="matrix(1.3109 0 0 1.0600 422.39 40.49)" font-size="20" fill="#000">=</text>
<text transform="matrix(0.9106 0 0 0.9500 442.24 38.70)" font-size="20" fill="#000">150</text>
<text transform="matrix(0.9522 0 0 0.9500 475.96 38.35)" font-size="20" fill="#000">nm</text>
<text transform="matrix(0.8566 0 0 1.0532 501.75 38.92)" font-size="20" fill="#000">)</text>
<rect x="297.94" y="55.73" width="8.33" height="8.33" stroke="#16a6ee" stroke-width="1.5" fill="none"/>
<text transform="matrix(1.0162 0 0 0.9500 336.09 66.75)" font-size="20" font-style="italic" fill="#000">α</text>
<text transform="matrix(1.3109 0 0 1.0600 352.79 68.89)" font-size="20" fill="#000">=</text>
<text transform="matrix(0.9106 0 0 0.9500 372.84 67.10)" font-size="20" fill="#000">150</text>
<text transform="matrix(0.8371 0 0 1.0532 407.06 67.32)" font-size="20" fill="#000">(</text>
<text transform="matrix(0.9988 0 0 0.9500 412.92 67.00)" font-size="20" font-style="italic" fill="#000">w</text>
<text transform="matrix(1.3109 0 0 1.0600 431.59 68.89)" font-size="20" fill="#000">=</text>
<text transform="matrix(0.9134 0 0 0.9500 451.36 67.10)" font-size="20" fill="#000">450</text>
<text transform="matrix(0.9522 0 0 0.9500 485.16 66.75)" font-size="20" fill="#000">nm</text>
<text transform="matrix(0.8566 0 0 1.0532 510.95 67.32)" font-size="20" fill="#000">)</text>
<path d="M302.10 84.30L306.10 92.30L298.10 92.30Z" stroke="#32aa36" stroke-width="1.5" fill="none" stroke-linejoin="miter"/>
<text transform="matrix(1.0162 0 0 0.9500 336.09 95.15)" font-size="20" font-style="italic" fill="#000">α</text>
<text transform="matrix(1.3109 0 0 1.0600 352.79 97.29)" font-size="20" fill="#000">=</text>
<text transform="matrix(0.9226 0 0 0.9500 372.49 95.50)" font-size="20" fill="#000">300</text>
<text transform="matrix(0.8371 0 0 1.0532 407.06 95.72)" font-size="20" fill="#000">(</text>
<text transform="matrix(0.9988 0 0 0.9500 412.92 95.40)" font-size="20" font-style="italic" fill="#000">w</text>
<text transform="matrix(1.3109 0 0 1.0600 431.59 97.29)" font-size="20" fill="#000">=</text>
<text transform="matrix(0.9125 0 0 0.9500 451.38 95.50)" font-size="20" fill="#000">900</text>
<text transform="matrix(0.9522 0 0 0.9500 485.16 95.15)" font-size="20" fill="#000">nm</text>
<text transform="matrix(0.8566 0 0 1.0532 510.95 95.72)" font-size="20" fill="#000">)</text>
<circle cx="302.10" cy="116.70" r="4.17" stroke="#f3841a" stroke-width="1.5" fill="none"/>
<text transform="matrix(1.0162 0 0 0.9500 336.09 123.55)" font-size="20" font-style="italic" fill="#000">α</text>
<text transform="matrix(1.3109 0 0 1.0600 352.79 125.69)" font-size="20" fill="#000">=</text>
<text transform="matrix(0.9194 0 0 0.9500 372.58 123.90)" font-size="20" fill="#000">600</text>
<text transform="matrix(0.8371 0 0 1.0532 407.06 124.12)" font-size="20" fill="#000">(</text>
<text transform="matrix(0.9988 0 0 0.9500 412.92 123.80)" font-size="20" font-style="italic" fill="#000">w</text>
<text transform="matrix(1.3109 0 0 1.0600 431.59 125.69)" font-size="20" fill="#000">=</text>
<text transform="matrix(0.9131 0 0 0.9500 451.43 123.90)" font-size="20" fill="#000">1800</text>
<text transform="matrix(0.9522 0 0 0.9500 494.36 123.55)" font-size="20" fill="#000">nm</text>
<text transform="matrix(0.8566 0 0 1.0532 520.15 124.12)" font-size="20" fill="#000">)</text>
<path d="M302.10 139.21L305.63 145.10L302.10 150.99L298.57 145.10Z" stroke="#861a92" stroke-width="1.5" fill="none" stroke-linejoin="miter"/>
<text transform="matrix(1.0162 0 0 0.9500 336.09 151.95)" font-size="20" font-style="italic" fill="#000">α</text>
<text transform="matrix(1.3109 0 0 1.0600 352.79 154.09)" font-size="20" fill="#000">=</text>
<text transform="matrix(0.9125 0 0 0.9500 372.78 152.30)" font-size="20" fill="#000">900</text>
<text transform="matrix(0.8371 0 0 1.0532 407.06 152.52)" font-size="20" fill="#000">(</text>
<text transform="matrix(0.9988 0 0 0.9500 412.92 152.20)" font-size="20" font-style="italic" fill="#000">w</text>
<text transform="matrix(1.3109 0 0 1.0600 431.59 154.09)" font-size="20" fill="#000">=</text>
<text transform="matrix(0.9162 0 0 0.9500 451.31 152.30)" font-size="20" fill="#000">2700</text>
<text transform="matrix(0.9522 0 0 0.9500 494.36 151.95)" font-size="20" fill="#000">nm</text>
<text transform="matrix(0.8566 0 0 1.0532 520.15 152.52)" font-size="20" fill="#000">)</text>
</svg></body></html>
